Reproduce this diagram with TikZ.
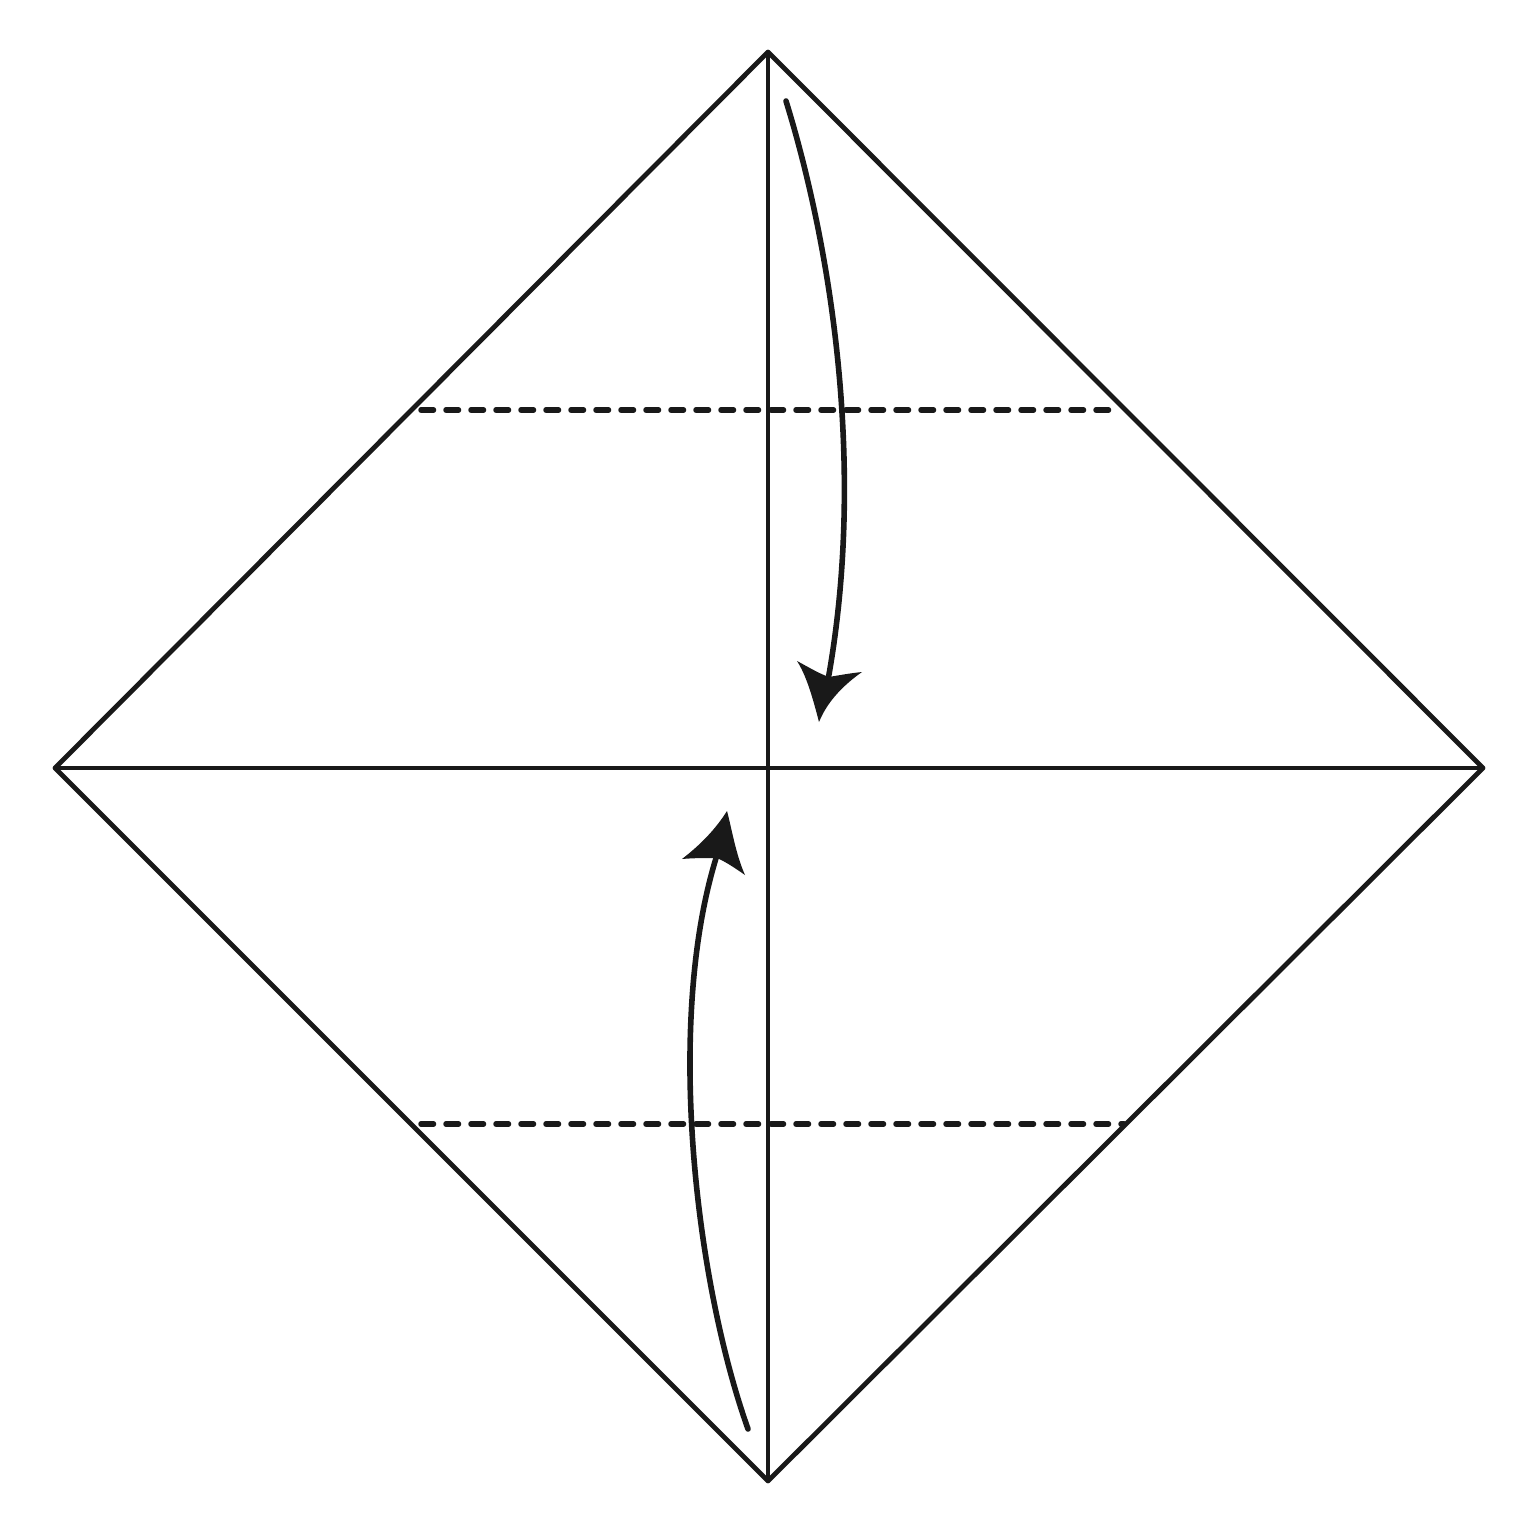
\documentclass[tikz,border=0pt]{standalone}
\begin{document}
\begin{tikzpicture}[x=1pt,y=-1pt,
  edge/.style={line width=4.8pt,color=black!90,line join=round,line cap=round},
  crease/.style={line width=3.2pt,color=black!90},
  valley/.style={line width=5.5pt,color=black!90,line cap=round,dash pattern=on 12.5pt off 12.5pt},
  shaft/.style={line width=5.6pt,color=black!90,line cap=round},
  head/.style={fill=black!90,draw=none}]
\useasboundingbox (0,0) rectangle (1536,1536);
\coordinate (T) at (768,52);
\coordinate (L) at (55,768);
\coordinate (R) at (1483,768);
\coordinate (B) at (768,1481);
\draw[crease] (T) -- (B);
\draw[crease] (L) -- (R);
\draw[edge] (T) -- (R) -- (B) -- (L) -- cycle;
\draw[valley] (421,410) -- (1118,410);
\draw[valley] (421,1124) -- (1124,1124);
% arrow 1 (top, going down)
\draw[shaft] (786,101) .. controls (832,250) and (866,470) .. (828,680);
\fill[head] (819,722) .. controls (812,695) and (806,675) .. (797,661)
  .. controls (810,668) and (820,674) .. (829,677)
  .. controls (840,675) and (852,673) .. (862,672)
  .. controls (845,684) and (828,700) .. cycle;
% arrow 2 (bottom, going up)
\draw[shaft] (748,1429) .. controls (695,1280) and (665,1020) .. (717,855);
\fill[head] (727,811) .. controls (732,830) and (736,855) .. (745,875)
  .. controls (735,868) and (726,862) .. (717,858)
  .. controls (705,858) and (693,858) .. (682,859)
  .. controls (700,845) and (715,830) .. cycle;
\end{tikzpicture}
\end{document}
